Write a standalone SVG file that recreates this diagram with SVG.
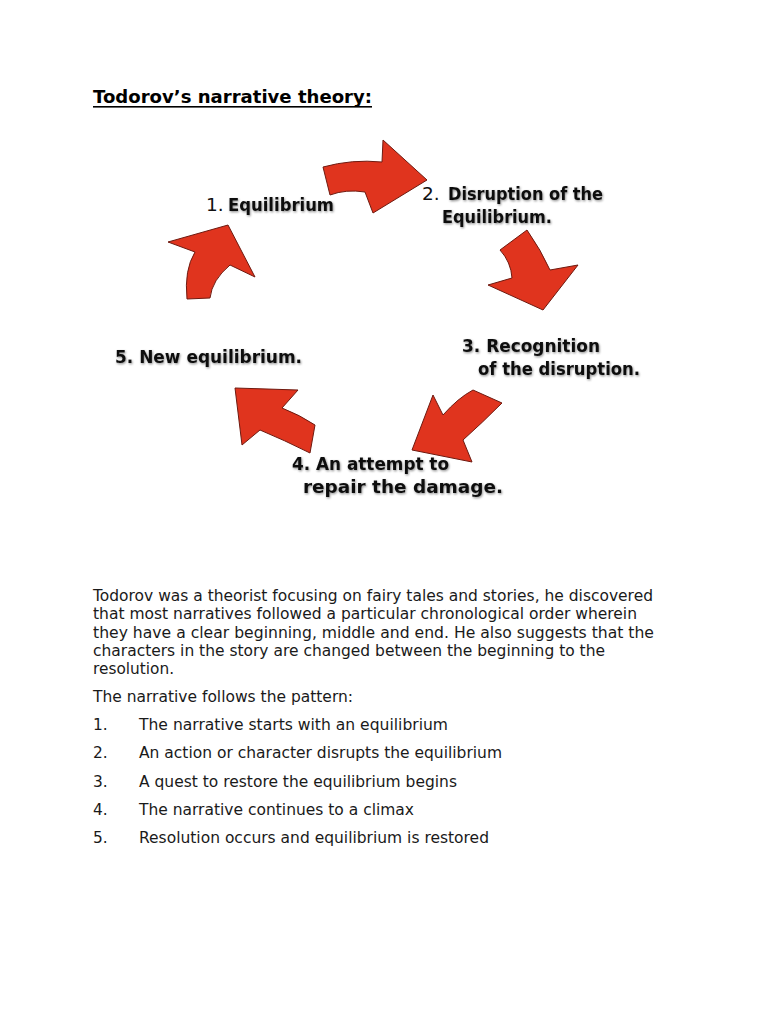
<svg xmlns="http://www.w3.org/2000/svg" width="768" height="1024" viewBox="0 0 768 1024">
<defs>
<filter id="sh" x="-10%" y="-30%" width="120%" height="160%">
<feDropShadow dx="0.8" dy="1.2" stdDeviation="1.2" flood-color="#000" flood-opacity="0.45"/>
</filter>
<style>
.arrow{fill:#e0341e;stroke:#6e1a10;stroke-width:1;stroke-linejoin:round}
.lbl{font-family:"DejaVu Sans","Liberation Sans",sans-serif;font-size:17.5px;font-weight:bold;fill:#111;filter:url(#sh)}
.num{font-family:"DejaVu Sans","Liberation Sans",sans-serif;font-weight:normal;font-size:18.5px;fill:#111}
.body{font-family:"DejaVu Sans","Liberation Sans",sans-serif;font-size:15.4px;fill:#1a1a1a}
.title{font-family:"DejaVu Sans","Liberation Sans",sans-serif;font-size:18.5px;font-weight:bold;fill:#000}
</style>
</defs>
<rect width="768" height="1024" fill="#fff"/>
<g id="title">
<text class="title" x="93" y="103" textLength="279" lengthAdjust="spacingAndGlyphs">Todorov’s narrative theory:</text>
<rect x="93" y="106" width="279" height="1.6" fill="#000"/>
</g>
<g id="connectors">
<path class="arrow" d="M323,167 Q352,159 382,162 L383,140 L427,180 L373,213 L365,192 Q346,189 330,195 Z"/>
<path class="arrow" d="M500,250 L527,230 Q541,250 550,270 L578,265 L543,310 L488,285 L512,278 Q511,262 500,250 Z"/>
<path class="arrow" d="M473,390 L502,403 Q482,423 463,440 L472,462 L412,450 L433,395 L443,415 Q458,398 473,390 Z"/>
<path class="arrow" d="M235,388 L298,390 L282,408 Q300,415 315,425 L310,453 Q284,440 260,430 L242,445 Z"/>
<path class="arrow" d="M187,299 Q184,270 195,252 L168,242 L228,225 L255,277 L230,265 Q212,280 210,298 Z"/>
</g>
<g id="node1">
<text class="num" x="206" y="211">1.</text>
<text class="lbl" x="228" y="211" textLength="106" lengthAdjust="spacingAndGlyphs">Equilibrium</text>
</g>
<g id="node2">
<text class="num" x="422" y="200">2.</text>
<text class="lbl" x="448" y="200" textLength="155" lengthAdjust="spacingAndGlyphs">Disruption of the</text>
<text class="lbl" x="442" y="223" textLength="110" lengthAdjust="spacingAndGlyphs">Equilibrium.</text>
</g>
<g id="node3">
<text class="lbl" x="462" y="352" textLength="138" lengthAdjust="spacingAndGlyphs">3. Recognition</text>
<text class="lbl" x="478" y="375" textLength="162" lengthAdjust="spacingAndGlyphs">of the disruption.</text>
</g>
<g id="node4">
<text class="lbl" x="292" y="470" textLength="157" lengthAdjust="spacingAndGlyphs">4. An attempt to</text>
<text class="lbl" x="303" y="493" textLength="200" lengthAdjust="spacingAndGlyphs">repair the damage.</text>
</g>
<g id="node5">
<text class="lbl" x="115" y="363" textLength="187" lengthAdjust="spacingAndGlyphs">5. New equilibrium.</text>
</g>
<g id="text">
<text class="body" x="93" y="601" textLength="560" lengthAdjust="spacingAndGlyphs">Todorov was a theorist focusing on fairy tales and stories, he discovered</text>
<text class="body" x="93" y="619" textLength="544" lengthAdjust="spacingAndGlyphs">that most narratives followed a particular chronological order wherein</text>
<text class="body" x="93" y="638" textLength="561" lengthAdjust="spacingAndGlyphs">they have a clear beginning, middle and end.  He also suggests that the</text>
<text class="body" x="93" y="656" textLength="512" lengthAdjust="spacingAndGlyphs">characters in the story are changed between the beginning to the</text>
<text class="body" x="93" y="674" textLength="81" lengthAdjust="spacingAndGlyphs">resolution.</text>
<text class="body" x="93" y="702" textLength="260" lengthAdjust="spacingAndGlyphs">The narrative follows the pattern:</text>
<text class="body" x="93" y="730">1.</text><text class="body" x="139" y="730" textLength="309" lengthAdjust="spacingAndGlyphs">The narrative starts with an equilibrium</text>
<text class="body" x="93" y="758">2.</text><text class="body" x="139" y="758" textLength="363" lengthAdjust="spacingAndGlyphs">An action or character disrupts the equilibrium</text>
<text class="body" x="93" y="787">3.</text><text class="body" x="139" y="787" textLength="318" lengthAdjust="spacingAndGlyphs">A quest to restore the equilibrium begins</text>
<text class="body" x="93" y="815">4.</text><text class="body" x="139" y="815" textLength="275" lengthAdjust="spacingAndGlyphs">The narrative continues to a climax</text>
<text class="body" x="93" y="843">5.</text><text class="body" x="139" y="843" textLength="350" lengthAdjust="spacingAndGlyphs">Resolution occurs and equilibrium is restored</text>
</g>
</svg>
